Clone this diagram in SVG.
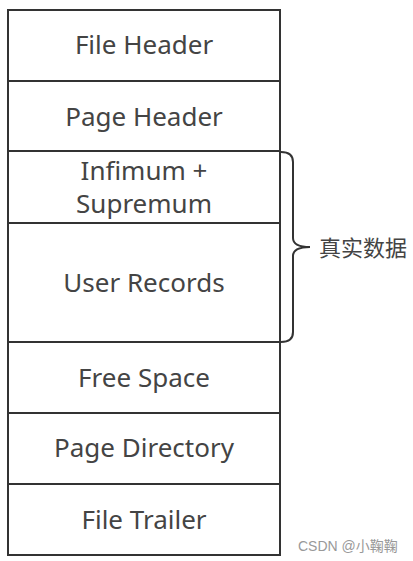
<svg xmlns="http://www.w3.org/2000/svg" width="413" height="561" viewBox="0 0 413 561">
<style>
.box{fill:#fff;stroke:#333;stroke-width:2}
.t{font-family:"Noto Sans","Open Sans",sans-serif;font-size:26px;fill:#444;text-anchor:middle}
.cn{font-family:"Noto Sans CJK SC",sans-serif;font-size:22px;fill:#444}
.wm{font-family:"Liberation Sans","Noto Sans CJK SC",sans-serif;font-size:14px;fill:#999}
</style>
<rect width="413" height="561" fill="#fff"/>
<g id="file-header"><rect class="box" x="8" y="10" width="272" height="71"/><text class="t" x="144" y="54">File Header</text></g>
<g id="page-header"><rect class="box" x="8" y="81" width="272" height="70"/><text class="t" x="144" y="126">Page Header</text></g>
<g id="infimum"><rect class="box" x="8" y="151" width="272" height="72"/><text class="t" x="144" y="180">Infimum +</text><text class="t" x="144" y="213">Supremum</text></g>
<g id="user-records"><rect class="box" x="8" y="223" width="272" height="119"/><text class="t" x="144" y="292">User Records</text></g>
<g id="free-space"><rect class="box" x="8" y="342" width="272" height="71"/><text class="t" x="144" y="387">Free Space</text></g>
<g id="page-directory"><rect class="box" x="8" y="413" width="272" height="71"/><text class="t" x="144" y="457">Page Directory</text></g>
<g id="file-trailer"><rect class="box" x="8" y="484" width="272" height="71"/><text class="t" x="144" y="529">File Trailer</text></g>
<g id="connectors">
<path d="M281,152 Q293,152 293,162 L293,238 Q293,247 310,247 Q293,247 293,256 L293,332 Q293,342 281,342" fill="none" stroke="#333" stroke-width="2"/>
</g>
<g id="label"><text class="cn" x="319" y="256">真实数据</text></g>
<text class="wm" x="298" y="551">CSDN @小鞠鞠</text>
</svg>
